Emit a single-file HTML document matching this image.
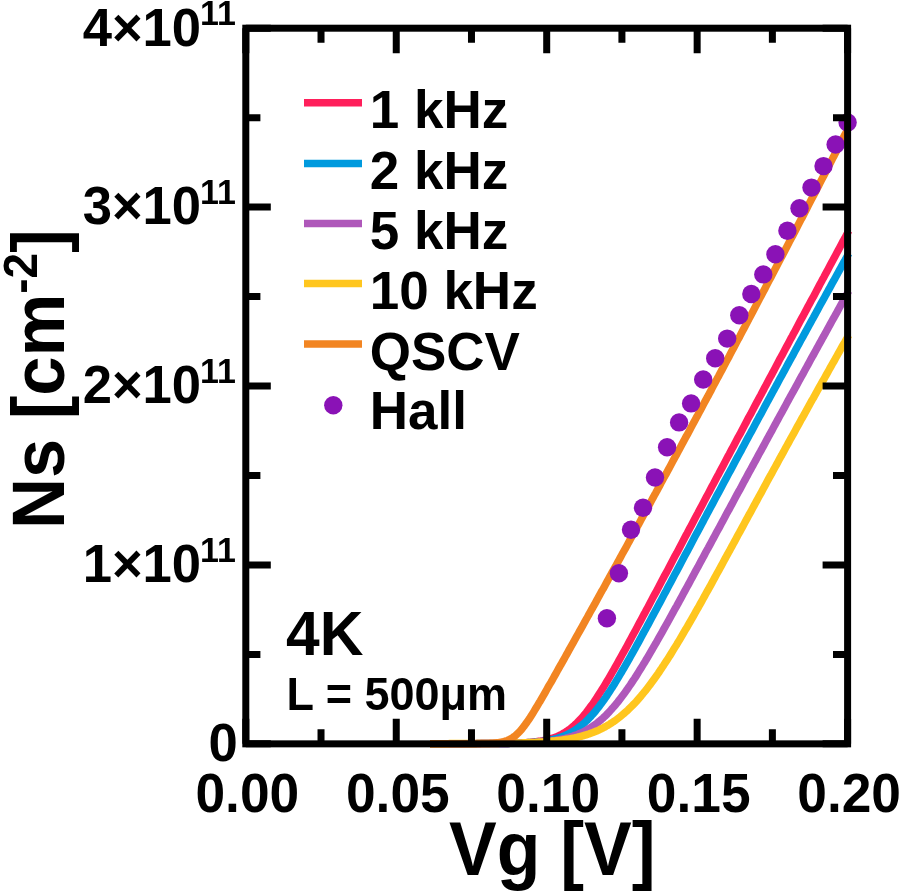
<!DOCTYPE html>
<html><head><meta charset="utf-8"><title>Ns vs Vg</title>
<style>
html,body{margin:0;padding:0;background:#fff;overflow:hidden;}
svg{display:block;}
text{font-family:"Liberation Sans",Arial,Helvetica,sans-serif;font-weight:bold;fill:#000;}
</style></head>
<body>
<svg width="899" height="891" viewBox="0 0 899 891">
<rect width="899" height="891" fill="#fff"/>
<path d="M430.0,743.7 L431.3,743.7 L432.6,743.7 L433.9,743.7 L435.3,743.7 L436.6,743.7 L437.9,743.7 L439.2,743.7 L440.5,743.7 L441.8,743.7 L443.1,743.7 L444.4,743.7 L445.8,743.7 L447.1,743.7 L448.4,743.7 L449.7,743.7 L451.0,743.7 L452.3,743.7 L453.6,743.7 L454.9,743.7 L456.3,743.7 L457.6,743.7 L458.9,743.7 L460.2,743.7 L461.5,743.7 L462.8,743.7 L464.1,743.7 L465.4,743.7 L466.8,743.7 L468.1,743.7 L469.4,743.7 L470.7,743.7 L472.0,743.7 L473.3,743.7 L474.6,743.7 L475.9,743.7 L477.3,743.7 L478.6,743.7 L479.9,743.7 L481.2,743.6 L482.5,743.6 L483.8,743.6 L485.1,743.6 L486.4,743.6 L487.8,743.6 L489.1,743.6 L490.4,743.6 L491.7,743.6 L493.0,743.6 L494.3,743.6 L495.6,743.6 L496.9,743.5 L498.3,743.5 L499.6,743.5 L500.9,743.5 L502.2,743.5 L503.5,743.5 L504.8,743.4 L506.1,743.4 L507.4,743.4 L508.8,743.4 L510.1,743.3 L511.4,743.3 L512.7,743.3 L514.0,743.2 L515.3,743.2 L516.6,743.1 L517.9,743.1 L519.3,743.0 L520.6,743.0 L521.9,742.9 L523.2,742.8 L524.5,742.8 L525.8,742.7 L527.1,742.6 L528.4,742.5 L529.8,742.4 L531.1,742.3 L532.4,742.1 L533.7,742.0 L535.0,741.8 L536.3,741.7 L537.6,741.5 L538.9,741.3 L540.3,741.1 L541.6,740.9 L542.9,740.7 L544.2,740.4 L545.5,740.1 L546.8,739.8 L548.1,739.5 L549.4,739.1 L550.8,738.7 L552.1,738.3 L553.4,737.9 L554.7,737.4 L556.0,736.9 L557.3,736.4 L558.6,735.8 L559.9,735.2 L561.3,734.5 L562.6,733.8 L563.9,733.0 L565.2,732.3 L566.5,731.4 L567.8,730.5 L569.1,729.6 L570.4,728.6 L571.8,727.5 L573.1,726.4 L574.4,725.3 L575.7,724.1 L577.0,722.8 L578.3,721.5 L579.6,720.1 L580.9,718.7 L582.3,717.2 L583.6,715.7 L584.9,714.1 L586.2,712.5 L587.5,710.8 L588.8,709.1 L590.1,707.3 L591.4,705.5 L592.8,703.7 L594.1,701.8 L595.4,699.8 L596.7,697.9 L598.0,695.9 L599.3,693.8 L600.6,691.8 L601.9,689.7 L603.3,687.6 L604.6,685.4 L605.9,683.2 L607.2,681.0 L608.5,678.8 L609.8,676.6 L611.1,674.3 L612.4,672.0 L613.8,669.8 L615.1,667.4 L616.4,665.1 L617.7,662.8 L619.0,660.4 L620.3,658.1 L621.6,655.7 L622.9,653.4 L624.3,651.0 L625.6,648.6 L626.9,646.2 L628.2,643.8 L629.5,641.4 L630.8,638.9 L632.1,636.5 L633.4,634.1 L634.8,631.7 L636.1,629.2 L637.4,626.8 L638.7,624.3 L640.0,621.9 L641.3,619.4 L642.6,617.0 L643.9,614.5 L645.3,612.1 L646.6,609.6 L647.9,607.2 L649.2,604.7 L650.5,602.2 L651.8,599.8 L653.1,597.3 L654.4,594.9 L655.8,592.4 L657.1,589.9 L658.4,587.5 L659.7,585.0 L661.0,582.5 L662.3,580.0 L663.6,577.6 L664.9,575.1 L666.3,572.6 L667.6,570.2 L668.9,567.7 L670.2,565.2 L671.5,562.7 L672.8,560.3 L674.1,557.8 L675.4,555.3 L676.8,552.9 L678.1,550.4 L679.4,547.9 L680.7,545.4 L682.0,543.0 L683.3,540.5 L684.6,538.0 L685.9,535.5 L687.3,533.1 L688.6,530.6 L689.9,528.1 L691.2,525.7 L692.5,523.2 L693.8,520.7 L695.1,518.2 L696.4,515.8 L697.8,513.3 L699.1,510.8 L700.4,508.4 L701.7,505.9 L703.0,503.4 L704.3,501.0 L705.6,498.5 L706.9,496.0 L708.3,493.5 L709.6,491.1 L710.9,488.6 L712.2,486.1 L713.5,483.7 L714.8,481.2 L716.1,478.7 L717.4,476.3 L718.8,473.8 L720.1,471.3 L721.4,468.9 L722.7,466.4 L724.0,463.9 L725.3,461.5 L726.6,459.0 L727.9,456.5 L729.3,454.1 L730.6,451.6 L731.9,449.1 L733.2,446.7 L734.5,444.2 L735.8,441.8 L737.1,439.3 L738.4,436.8 L739.8,434.4 L741.1,431.9 L742.4,429.4 L743.7,427.0 L745.0,424.5 L746.3,422.1 L747.6,419.6 L748.9,417.1 L750.3,414.7 L751.6,412.2 L752.9,409.8 L754.2,407.3 L755.5,404.8 L756.8,402.4 L758.1,399.9 L759.4,397.5 L760.8,395.0 L762.1,392.5 L763.4,390.1 L764.7,387.6 L766.0,385.2 L767.3,382.7 L768.6,380.2 L769.9,377.8 L771.3,375.3 L772.6,372.9 L773.9,370.4 L775.2,368.0 L776.5,365.5 L777.8,363.1 L779.1,360.6 L780.4,358.1 L781.8,355.7 L783.1,353.2 L784.4,350.8 L785.7,348.3 L787.0,345.9 L788.3,343.4 L789.6,341.0 L790.9,338.5 L792.3,336.1 L793.6,333.6 L794.9,331.2 L796.2,328.7 L797.5,326.3 L798.8,323.8 L800.1,321.3 L801.4,318.9 L802.8,316.4 L804.1,314.0 L805.4,311.5 L806.7,309.1 L808.0,306.6 L809.3,304.2 L810.6,301.7 L811.9,299.3 L813.3,296.9 L814.6,294.4 L815.9,292.0 L817.2,289.5 L818.5,287.1 L819.8,284.6 L821.1,282.2 L822.4,279.7 L823.8,277.3 L825.1,274.8 L826.4,272.4 L827.7,269.9 L829.0,267.5 L830.3,265.0 L831.6,262.6 L832.9,260.2 L834.3,257.7 L835.6,255.3 L836.9,252.8 L838.2,250.4 L839.5,247.9 L840.8,245.5 L842.1,243.1 L843.4,240.6 L844.8,238.2 L846.1,235.7 L847.4,233.3 L848.7,230.8" fill="none" stroke="#FF1F5B" stroke-width="7.5" stroke-linejoin="round"/>
<path d="M430.0,743.7 L431.3,743.7 L432.6,743.7 L433.9,743.7 L435.3,743.7 L436.6,743.7 L437.9,743.7 L439.2,743.7 L440.5,743.7 L441.8,743.7 L443.1,743.7 L444.4,743.7 L445.8,743.7 L447.1,743.7 L448.4,743.7 L449.7,743.7 L451.0,743.7 L452.3,743.7 L453.6,743.7 L454.9,743.7 L456.3,743.7 L457.6,743.7 L458.9,743.7 L460.2,743.7 L461.5,743.7 L462.8,743.7 L464.1,743.7 L465.4,743.7 L466.8,743.7 L468.1,743.7 L469.4,743.7 L470.7,743.7 L472.0,743.7 L473.3,743.7 L474.6,743.7 L475.9,743.7 L477.3,743.6 L478.6,743.6 L479.9,743.6 L481.2,743.6 L482.5,743.6 L483.8,743.6 L485.1,743.6 L486.4,743.6 L487.8,743.6 L489.1,743.6 L490.4,743.6 L491.7,743.6 L493.0,743.6 L494.3,743.6 L495.6,743.5 L496.9,743.5 L498.3,743.5 L499.6,743.5 L500.9,743.5 L502.2,743.5 L503.5,743.5 L504.8,743.4 L506.1,743.4 L507.4,743.4 L508.8,743.4 L510.1,743.3 L511.4,743.3 L512.7,743.3 L514.0,743.2 L515.3,743.2 L516.6,743.2 L517.9,743.1 L519.3,743.1 L520.6,743.0 L521.9,743.0 L523.2,742.9 L524.5,742.9 L525.8,742.8 L527.1,742.7 L528.4,742.6 L529.8,742.6 L531.1,742.5 L532.4,742.4 L533.7,742.3 L535.0,742.1 L536.3,742.0 L537.6,741.9 L538.9,741.8 L540.3,741.6 L541.6,741.4 L542.9,741.3 L544.2,741.1 L545.5,740.9 L546.8,740.7 L548.1,740.4 L549.4,740.2 L550.8,739.9 L552.1,739.6 L553.4,739.3 L554.7,739.0 L556.0,738.6 L557.3,738.3 L558.6,737.9 L559.9,737.4 L561.3,737.0 L562.6,736.5 L563.9,736.0 L565.2,735.4 L566.5,734.8 L567.8,734.2 L569.1,733.6 L570.4,732.9 L571.8,732.1 L573.1,731.4 L574.4,730.5 L575.7,729.7 L577.0,728.8 L578.3,727.8 L579.6,726.8 L580.9,725.8 L582.3,724.7 L583.6,723.6 L584.9,722.4 L586.2,721.1 L587.5,719.9 L588.8,718.5 L590.1,717.2 L591.4,715.7 L592.8,714.2 L594.1,712.7 L595.4,711.2 L596.7,709.5 L598.0,707.9 L599.3,706.2 L600.6,704.4 L601.9,702.7 L603.3,700.8 L604.6,699.0 L605.9,697.1 L607.2,695.1 L608.5,693.2 L609.8,691.2 L611.1,689.1 L612.4,687.1 L613.8,685.0 L615.1,682.9 L616.4,680.7 L617.7,678.6 L619.0,676.4 L620.3,674.2 L621.6,672.0 L622.9,669.7 L624.3,667.5 L625.6,665.2 L626.9,662.9 L628.2,660.6 L629.5,658.3 L630.8,656.0 L632.1,653.6 L633.4,651.3 L634.8,648.9 L636.1,646.5 L637.4,644.1 L638.7,641.8 L640.0,639.4 L641.3,637.0 L642.6,634.5 L643.9,632.1 L645.3,629.7 L646.6,627.3 L647.9,624.9 L649.2,622.4 L650.5,620.0 L651.8,617.5 L653.1,615.1 L654.4,612.7 L655.8,610.2 L657.1,607.8 L658.4,605.3 L659.7,602.9 L661.0,600.4 L662.3,597.9 L663.6,595.5 L664.9,593.0 L666.3,590.6 L667.6,588.1 L668.9,585.6 L670.2,583.2 L671.5,580.7 L672.8,578.2 L674.1,575.8 L675.4,573.3 L676.8,570.8 L678.1,568.4 L679.4,565.9 L680.7,563.4 L682.0,561.0 L683.3,558.5 L684.6,556.0 L685.9,553.6 L687.3,551.1 L688.6,548.7 L689.9,546.2 L691.2,543.7 L692.5,541.3 L693.8,538.8 L695.1,536.3 L696.4,533.9 L697.8,531.4 L699.1,529.0 L700.4,526.5 L701.7,524.0 L703.0,521.6 L704.3,519.1 L705.6,516.7 L706.9,514.2 L708.3,511.7 L709.6,509.3 L710.9,506.8 L712.2,504.4 L713.5,501.9 L714.8,499.5 L716.1,497.0 L717.4,494.6 L718.8,492.1 L720.1,489.7 L721.4,487.2 L722.7,484.8 L724.0,482.3 L725.3,479.9 L726.6,477.4 L727.9,475.0 L729.3,472.5 L730.6,470.1 L731.9,467.7 L733.2,465.2 L734.5,462.8 L735.8,460.3 L737.1,457.9 L738.4,455.5 L739.8,453.0 L741.1,450.6 L742.4,448.1 L743.7,445.7 L745.0,443.3 L746.3,440.8 L747.6,438.4 L748.9,436.0 L750.3,433.5 L751.6,431.1 L752.9,428.7 L754.2,426.2 L755.5,423.8 L756.8,421.4 L758.1,419.0 L759.4,416.5 L760.8,414.1 L762.1,411.7 L763.4,409.3 L764.7,406.8 L766.0,404.4 L767.3,402.0 L768.6,399.6 L769.9,397.2 L771.3,394.7 L772.6,392.3 L773.9,389.9 L775.2,387.5 L776.5,385.1 L777.8,382.7 L779.1,380.2 L780.4,377.8 L781.8,375.4 L783.1,373.0 L784.4,370.6 L785.7,368.2 L787.0,365.8 L788.3,363.4 L789.6,361.0 L790.9,358.6 L792.3,356.2 L793.6,353.7 L794.9,351.3 L796.2,348.9 L797.5,346.5 L798.8,344.1 L800.1,341.7 L801.4,339.3 L802.8,336.9 L804.1,334.5 L805.4,332.1 L806.7,329.7 L808.0,327.4 L809.3,325.0 L810.6,322.6 L811.9,320.2 L813.3,317.8 L814.6,315.4 L815.9,313.0 L817.2,310.6 L818.5,308.2 L819.8,305.8 L821.1,303.4 L822.4,301.1 L823.8,298.7 L825.1,296.3 L826.4,293.9 L827.7,291.5 L829.0,289.1 L830.3,286.8 L831.6,284.4 L832.9,282.0 L834.3,279.6 L835.6,277.2 L836.9,274.9 L838.2,272.5 L839.5,270.1 L840.8,267.7 L842.1,265.4 L843.4,263.0 L844.8,260.6 L846.1,258.2 L847.4,255.9 L848.7,253.5" fill="none" stroke="#009ADE" stroke-width="7.5" stroke-linejoin="round"/>
<path d="M430.0,743.7 L431.3,743.7 L432.6,743.7 L433.9,743.7 L435.3,743.7 L436.6,743.7 L437.9,743.7 L439.2,743.7 L440.5,743.7 L441.8,743.7 L443.1,743.7 L444.4,743.7 L445.8,743.7 L447.1,743.7 L448.4,743.7 L449.7,743.7 L451.0,743.7 L452.3,743.7 L453.6,743.7 L454.9,743.7 L456.3,743.7 L457.6,743.7 L458.9,743.7 L460.2,743.7 L461.5,743.7 L462.8,743.7 L464.1,743.7 L465.4,743.7 L466.8,743.7 L468.1,743.7 L469.4,743.6 L470.7,743.6 L472.0,743.6 L473.3,743.6 L474.6,743.6 L475.9,743.6 L477.3,743.6 L478.6,743.6 L479.9,743.6 L481.2,743.6 L482.5,743.6 L483.8,743.6 L485.1,743.6 L486.4,743.6 L487.8,743.6 L489.1,743.6 L490.4,743.6 L491.7,743.5 L493.0,743.5 L494.3,743.5 L495.6,743.5 L496.9,743.5 L498.3,743.5 L499.6,743.5 L500.9,743.5 L502.2,743.4 L503.5,743.4 L504.8,743.4 L506.1,743.4 L507.4,743.4 L508.8,743.3 L510.1,743.3 L511.4,743.3 L512.7,743.3 L514.0,743.2 L515.3,743.2 L516.6,743.2 L517.9,743.1 L519.3,743.1 L520.6,743.1 L521.9,743.0 L523.2,743.0 L524.5,742.9 L525.8,742.9 L527.1,742.8 L528.4,742.8 L529.8,742.7 L531.1,742.6 L532.4,742.6 L533.7,742.5 L535.0,742.4 L536.3,742.3 L537.6,742.2 L538.9,742.2 L540.3,742.1 L541.6,741.9 L542.9,741.8 L544.2,741.7 L545.5,741.6 L546.8,741.4 L548.1,741.3 L549.4,741.1 L550.8,741.0 L552.1,740.8 L553.4,740.6 L554.7,740.4 L556.0,740.2 L557.3,740.0 L558.6,739.8 L559.9,739.5 L561.3,739.3 L562.6,739.0 L563.9,738.7 L565.2,738.4 L566.5,738.0 L567.8,737.7 L569.1,737.3 L570.4,736.9 L571.8,736.5 L573.1,736.1 L574.4,735.6 L575.7,735.2 L577.0,734.7 L578.3,734.1 L579.6,733.6 L580.9,733.0 L582.3,732.4 L583.6,731.7 L584.9,731.0 L586.2,730.3 L587.5,729.6 L588.8,728.8 L590.1,728.0 L591.4,727.1 L592.8,726.3 L594.1,725.3 L595.4,724.4 L596.7,723.4 L598.0,722.3 L599.3,721.3 L600.6,720.2 L601.9,719.0 L603.3,717.8 L604.6,716.6 L605.9,715.3 L607.2,714.0 L608.5,712.6 L609.8,711.2 L611.1,709.8 L612.4,708.3 L613.8,706.8 L615.1,705.3 L616.4,703.7 L617.7,702.1 L619.0,700.4 L620.3,698.7 L621.6,697.0 L622.9,695.3 L624.3,693.5 L625.6,691.6 L626.9,689.8 L628.2,687.9 L629.5,686.0 L630.8,684.1 L632.1,682.1 L633.4,680.1 L634.8,678.1 L636.1,676.1 L637.4,674.0 L638.7,671.9 L640.0,669.8 L641.3,667.7 L642.6,665.6 L643.9,663.4 L645.3,661.2 L646.6,659.0 L647.9,656.8 L649.2,654.6 L650.5,652.4 L651.8,650.1 L653.1,647.9 L654.4,645.6 L655.8,643.3 L657.1,641.0 L658.4,638.7 L659.7,636.4 L661.0,634.1 L662.3,631.8 L663.6,629.4 L664.9,627.1 L666.3,624.7 L667.6,622.4 L668.9,620.0 L670.2,617.7 L671.5,615.3 L672.8,612.9 L674.1,610.5 L675.4,608.2 L676.8,605.8 L678.1,603.4 L679.4,601.0 L680.7,598.6 L682.0,596.2 L683.3,593.8 L684.6,591.4 L685.9,589.0 L687.3,586.5 L688.6,584.1 L689.9,581.7 L691.2,579.3 L692.5,576.9 L693.8,574.5 L695.1,572.0 L696.4,569.6 L697.8,567.2 L699.1,564.8 L700.4,562.3 L701.7,559.9 L703.0,557.5 L704.3,555.1 L705.6,552.6 L706.9,550.2 L708.3,547.8 L709.6,545.4 L710.9,542.9 L712.2,540.5 L713.5,538.1 L714.8,535.7 L716.1,533.2 L717.4,530.8 L718.8,528.4 L720.1,525.9 L721.4,523.5 L722.7,521.1 L724.0,518.7 L725.3,516.2 L726.6,513.8 L727.9,511.4 L729.3,509.0 L730.6,506.5 L731.9,504.1 L733.2,501.7 L734.5,499.3 L735.8,496.8 L737.1,494.4 L738.4,492.0 L739.8,489.6 L741.1,487.2 L742.4,484.7 L743.7,482.3 L745.0,479.9 L746.3,477.5 L747.6,475.1 L748.9,472.6 L750.3,470.2 L751.6,467.8 L752.9,465.4 L754.2,463.0 L755.5,460.6 L756.8,458.2 L758.1,455.7 L759.4,453.3 L760.8,450.9 L762.1,448.5 L763.4,446.1 L764.7,443.7 L766.0,441.3 L767.3,438.9 L768.6,436.5 L769.9,434.1 L771.3,431.7 L772.6,429.2 L773.9,426.8 L775.2,424.4 L776.5,422.0 L777.8,419.6 L779.1,417.2 L780.4,414.8 L781.8,412.4 L783.1,410.0 L784.4,407.6 L785.7,405.2 L787.0,402.8 L788.3,400.4 L789.6,398.0 L790.9,395.6 L792.3,393.2 L793.6,390.9 L794.9,388.5 L796.2,386.1 L797.5,383.7 L798.8,381.3 L800.1,378.9 L801.4,376.5 L802.8,374.1 L804.1,371.7 L805.4,369.3 L806.7,367.0 L808.0,364.6 L809.3,362.2 L810.6,359.8 L811.9,357.4 L813.3,355.0 L814.6,352.7 L815.9,350.3 L817.2,347.9 L818.5,345.5 L819.8,343.1 L821.1,340.8 L822.4,338.4 L823.8,336.0 L825.1,333.6 L826.4,331.2 L827.7,328.9 L829.0,326.5 L830.3,324.1 L831.6,321.7 L832.9,319.4 L834.3,317.0 L835.6,314.6 L836.9,312.3 L838.2,309.9 L839.5,307.5 L840.8,305.2 L842.1,302.8 L843.4,300.4 L844.8,298.1 L846.1,295.7 L847.4,293.3 L848.7,291.0" fill="none" stroke="#AF58BA" stroke-width="7.5" stroke-linejoin="round"/>
<path d="M430.0,743.7 L431.3,743.7 L432.6,743.7 L433.9,743.7 L435.3,743.7 L436.6,743.7 L437.9,743.7 L439.2,743.7 L440.5,743.7 L441.8,743.7 L443.1,743.7 L444.4,743.7 L445.8,743.7 L447.1,743.7 L448.4,743.7 L449.7,743.6 L451.0,743.6 L452.3,743.6 L453.6,743.6 L454.9,743.6 L456.3,743.6 L457.6,743.6 L458.9,743.6 L460.2,743.6 L461.5,743.6 L462.8,743.6 L464.1,743.6 L465.4,743.6 L466.8,743.6 L468.1,743.6 L469.4,743.6 L470.7,743.6 L472.0,743.6 L473.3,743.6 L474.6,743.6 L475.9,743.6 L477.3,743.6 L478.6,743.5 L479.9,743.5 L481.2,743.5 L482.5,743.5 L483.8,743.5 L485.1,743.5 L486.4,743.5 L487.8,743.5 L489.1,743.5 L490.4,743.5 L491.7,743.4 L493.0,743.4 L494.3,743.4 L495.6,743.4 L496.9,743.4 L498.3,743.4 L499.6,743.3 L500.9,743.3 L502.2,743.3 L503.5,743.3 L504.8,743.3 L506.1,743.2 L507.4,743.2 L508.8,743.2 L510.1,743.2 L511.4,743.1 L512.7,743.1 L514.0,743.1 L515.3,743.1 L516.6,743.0 L517.9,743.0 L519.3,743.0 L520.6,742.9 L521.9,742.9 L523.2,742.8 L524.5,742.8 L525.8,742.7 L527.1,742.7 L528.4,742.6 L529.8,742.6 L531.1,742.5 L532.4,742.5 L533.7,742.4 L535.0,742.4 L536.3,742.3 L537.6,742.2 L538.9,742.1 L540.3,742.1 L541.6,742.0 L542.9,741.9 L544.2,741.8 L545.5,741.7 L546.8,741.6 L548.1,741.5 L549.4,741.4 L550.8,741.3 L552.1,741.1 L553.4,741.0 L554.7,740.9 L556.0,740.7 L557.3,740.6 L558.6,740.4 L559.9,740.3 L561.3,740.1 L562.6,739.9 L563.9,739.7 L565.2,739.5 L566.5,739.3 L567.8,739.1 L569.1,738.9 L570.4,738.7 L571.8,738.4 L573.1,738.1 L574.4,737.9 L575.7,737.6 L577.0,737.3 L578.3,737.0 L579.6,736.7 L580.9,736.3 L582.3,736.0 L583.6,735.6 L584.9,735.2 L586.2,734.8 L587.5,734.4 L588.8,734.0 L590.1,733.5 L591.4,733.0 L592.8,732.5 L594.1,732.0 L595.4,731.5 L596.7,730.9 L598.0,730.4 L599.3,729.8 L600.6,729.1 L601.9,728.5 L603.3,727.8 L604.6,727.1 L605.9,726.4 L607.2,725.6 L608.5,724.9 L609.8,724.1 L611.1,723.2 L612.4,722.4 L613.8,721.5 L615.1,720.6 L616.4,719.6 L617.7,718.6 L619.0,717.6 L620.3,716.6 L621.6,715.5 L622.9,714.4 L624.3,713.3 L625.6,712.1 L626.9,710.9 L628.2,709.7 L629.5,708.4 L630.8,707.1 L632.1,705.8 L633.4,704.5 L634.8,703.1 L636.1,701.7 L637.4,700.2 L638.7,698.7 L640.0,697.2 L641.3,695.7 L642.6,694.1 L643.9,692.5 L645.3,690.9 L646.6,689.2 L647.9,687.5 L649.2,685.8 L650.5,684.1 L651.8,682.3 L653.1,680.5 L654.4,678.7 L655.8,676.8 L657.1,675.0 L658.4,673.1 L659.7,671.1 L661.0,669.2 L662.3,667.2 L663.6,665.3 L664.9,663.3 L666.3,661.2 L667.6,659.2 L668.9,657.1 L670.2,655.1 L671.5,653.0 L672.8,650.9 L674.1,648.7 L675.4,646.6 L676.8,644.4 L678.1,642.2 L679.4,640.1 L680.7,637.9 L682.0,635.7 L683.3,633.4 L684.6,631.2 L685.9,628.9 L687.3,626.7 L688.6,624.4 L689.9,622.1 L691.2,619.9 L692.5,617.6 L693.8,615.3 L695.1,613.0 L696.4,610.6 L697.8,608.3 L699.1,606.0 L700.4,603.6 L701.7,601.3 L703.0,599.0 L704.3,596.6 L705.6,594.2 L706.9,591.9 L708.3,589.5 L709.6,587.1 L710.9,584.8 L712.2,582.4 L713.5,580.0 L714.8,577.6 L716.1,575.2 L717.4,572.8 L718.8,570.4 L720.1,568.0 L721.4,565.6 L722.7,563.2 L724.0,560.8 L725.3,558.4 L726.6,556.0 L727.9,553.6 L729.3,551.2 L730.6,548.8 L731.9,546.4 L733.2,544.0 L734.5,541.6 L735.8,539.2 L737.1,536.7 L738.4,534.3 L739.8,531.9 L741.1,529.5 L742.4,527.1 L743.7,524.7 L745.0,522.3 L746.3,519.9 L747.6,517.4 L748.9,515.0 L750.3,512.6 L751.6,510.2 L752.9,507.8 L754.2,505.4 L755.5,503.0 L756.8,500.6 L758.1,498.2 L759.4,495.8 L760.8,493.4 L762.1,490.9 L763.4,488.5 L764.7,486.1 L766.0,483.7 L767.3,481.3 L768.6,478.9 L769.9,476.5 L771.3,474.1 L772.6,471.7 L773.9,469.3 L775.2,467.0 L776.5,464.6 L777.8,462.2 L779.1,459.8 L780.4,457.4 L781.8,455.0 L783.1,452.6 L784.4,450.2 L785.7,447.8 L787.0,445.5 L788.3,443.1 L789.6,440.7 L790.9,438.3 L792.3,435.9 L793.6,433.6 L794.9,431.2 L796.2,428.8 L797.5,426.4 L798.8,424.1 L800.1,421.7 L801.4,419.3 L802.8,417.0 L804.1,414.6 L805.4,412.2 L806.7,409.9 L808.0,407.5 L809.3,405.2 L810.6,402.8 L811.9,400.4 L813.3,398.1 L814.6,395.7 L815.9,393.4 L817.2,391.0 L818.5,388.7 L819.8,386.3 L821.1,384.0 L822.4,381.7 L823.8,379.3 L825.1,377.0 L826.4,374.6 L827.7,372.3 L829.0,370.0 L830.3,367.6 L831.6,365.3 L832.9,363.0 L834.3,360.7 L835.6,358.3 L836.9,356.0 L838.2,353.7 L839.5,351.4 L840.8,349.0 L842.1,346.7 L843.4,344.4 L844.8,342.1 L846.1,339.8 L847.4,337.5 L848.7,335.2" fill="none" stroke="#FFC61E" stroke-width="7.5" stroke-linejoin="round"/>
<path d="M430.0,743.7 L431.3,743.7 L432.6,743.7 L433.9,743.7 L435.3,743.7 L436.6,743.7 L437.9,743.7 L439.2,743.7 L440.5,743.7 L441.8,743.7 L443.1,743.7 L444.4,743.7 L445.8,743.7 L447.1,743.7 L448.4,743.7 L449.7,743.7 L451.0,743.7 L452.3,743.7 L453.6,743.7 L454.9,743.7 L456.3,743.7 L457.6,743.7 L458.9,743.7 L460.2,743.7 L461.5,743.7 L462.8,743.7 L464.1,743.7 L465.4,743.7 L466.8,743.7 L468.1,743.7 L469.4,743.7 L470.7,743.7 L472.0,743.7 L473.3,743.7 L474.6,743.7 L475.9,743.7 L477.3,743.6 L478.6,743.6 L479.9,743.6 L481.2,743.6 L482.5,743.6 L483.8,743.6 L485.1,743.5 L486.4,743.5 L487.8,743.5 L489.1,743.4 L490.4,743.3 L491.7,743.3 L493.0,743.2 L494.3,743.1 L495.6,743.0 L496.9,742.8 L498.3,742.7 L499.6,742.5 L500.9,742.3 L502.2,742.0 L503.5,741.7 L504.8,741.3 L506.1,740.9 L507.4,740.4 L508.8,739.8 L510.1,739.2 L511.4,738.4 L512.7,737.6 L514.0,736.7 L515.3,735.7 L516.6,734.5 L517.9,733.3 L519.3,731.9 L520.6,730.5 L521.9,729.0 L523.2,727.3 L524.5,725.6 L525.8,723.8 L527.1,722.0 L528.4,720.1 L529.8,718.1 L531.1,716.0 L532.4,714.0 L533.7,711.9 L535.0,709.7 L536.3,707.5 L537.6,705.3 L538.9,703.1 L540.3,700.9 L541.6,698.6 L542.9,696.4 L544.2,694.1 L545.5,691.8 L546.8,689.5 L548.1,687.2 L549.4,684.9 L550.8,682.6 L552.1,680.3 L553.4,678.0 L554.7,675.6 L556.0,673.3 L557.3,671.0 L558.6,668.6 L559.9,666.3 L561.3,664.0 L562.6,661.6 L563.9,659.3 L565.2,657.0 L566.5,654.6 L567.8,652.3 L569.1,649.9 L570.4,647.6 L571.8,645.2 L573.1,642.9 L574.4,640.5 L575.7,638.2 L577.0,635.8 L578.3,633.5 L579.6,631.1 L580.9,628.8 L582.3,626.4 L583.6,624.0 L584.9,621.7 L586.2,619.3 L587.5,617.0 L588.8,614.6 L590.1,612.2 L591.4,609.9 L592.8,607.5 L594.1,605.1 L595.4,602.8 L596.7,600.4 L598.0,598.0 L599.3,595.7 L600.6,593.3 L601.9,590.9 L603.3,588.6 L604.6,586.2 L605.9,583.8 L607.2,581.4 L608.5,579.0 L609.8,576.7 L611.1,574.3 L612.4,571.9 L613.8,569.5 L615.1,567.1 L616.4,564.8 L617.7,562.4 L619.0,560.0 L620.3,557.6 L621.6,555.2 L622.9,552.8 L624.3,550.4 L625.6,548.1 L626.9,545.7 L628.2,543.3 L629.5,540.9 L630.8,538.5 L632.1,536.1 L633.4,533.7 L634.8,531.3 L636.1,528.9 L637.4,526.5 L638.7,524.1 L640.0,521.7 L641.3,519.3 L642.6,516.9 L643.9,514.5 L645.3,512.1 L646.6,509.7 L647.9,507.3 L649.2,504.9 L650.5,502.4 L651.8,500.0 L653.1,497.6 L654.4,495.2 L655.8,492.8 L657.1,490.4 L658.4,488.0 L659.7,485.6 L661.0,483.1 L662.3,480.7 L663.6,478.3 L664.9,475.9 L666.3,473.5 L667.6,471.0 L668.9,468.6 L670.2,466.2 L671.5,463.8 L672.8,461.3 L674.1,458.9 L675.4,456.5 L676.8,454.1 L678.1,451.6 L679.4,449.2 L680.7,446.8 L682.0,444.3 L683.3,441.9 L684.6,439.5 L685.9,437.0 L687.3,434.6 L688.6,432.2 L689.9,429.7 L691.2,427.3 L692.5,424.8 L693.8,422.4 L695.1,419.9 L696.4,417.5 L697.8,415.1 L699.1,412.6 L700.4,410.2 L701.7,407.7 L703.0,405.3 L704.3,402.8 L705.6,400.4 L706.9,397.9 L708.3,395.5 L709.6,393.0 L710.9,390.6 L712.2,388.1 L713.5,385.6 L714.8,383.2 L716.1,380.7 L717.4,378.3 L718.8,375.8 L720.1,373.3 L721.4,370.9 L722.7,368.4 L724.0,366.0 L725.3,363.5 L726.6,361.0 L727.9,358.6 L729.3,356.1 L730.6,353.6 L731.9,351.1 L733.2,348.7 L734.5,346.2 L735.8,343.7 L737.1,341.3 L738.4,338.8 L739.8,336.3 L741.1,333.8 L742.4,331.3 L743.7,328.9 L745.0,326.4 L746.3,323.9 L747.6,321.4 L748.9,318.9 L750.3,316.4 L751.6,314.0 L752.9,311.5 L754.2,309.0 L755.5,306.5 L756.8,304.0 L758.1,301.5 L759.4,299.0 L760.8,296.5 L762.1,294.0 L763.4,291.5 L764.7,289.1 L766.0,286.6 L767.3,284.1 L768.6,281.6 L769.9,279.1 L771.3,276.6 L772.6,274.1 L773.9,271.6 L775.2,269.1 L776.5,266.5 L777.8,264.0 L779.1,261.5 L780.4,259.0 L781.8,256.5 L783.1,254.0 L784.4,251.5 L785.7,249.0 L787.0,246.5 L788.3,244.0 L789.6,241.4 L790.9,238.9 L792.3,236.4 L793.6,233.9 L794.9,231.4 L796.2,228.9 L797.5,226.3 L798.8,223.8 L800.1,221.3 L801.4,218.8 L802.8,216.3 L804.1,213.7 L805.4,211.2 L806.7,208.7 L808.0,206.1 L809.3,203.6 L810.6,201.1 L811.9,198.6 L813.3,196.0 L814.6,193.5 L815.9,191.0 L817.2,188.4 L818.5,185.9 L819.8,183.3 L821.1,180.8 L822.4,178.3 L823.8,175.7 L825.1,173.2 L826.4,170.6 L827.7,168.1 L829.0,165.6 L830.3,163.0 L831.6,160.5 L832.9,157.9 L834.3,155.4 L835.6,152.8 L836.9,150.3 L838.2,147.7 L839.5,145.2 L840.8,142.6 L842.1,140.1 L843.4,137.5 L844.8,134.9 L846.1,132.4 L847.4,129.8 L848.7,127.3" fill="none" stroke="#F28522" stroke-width="7.5" stroke-linejoin="round"/>
<circle cx="606.9" cy="618.2" r="9.2" fill="#8A12B6"/>
<circle cx="618.9" cy="573.3" r="9.2" fill="#8A12B6"/>
<circle cx="631.0" cy="529.7" r="9.2" fill="#8A12B6"/>
<circle cx="643.0" cy="507.8" r="9.2" fill="#8A12B6"/>
<circle cx="655.0" cy="477.5" r="9.2" fill="#8A12B6"/>
<circle cx="667.1" cy="447.2" r="9.2" fill="#8A12B6"/>
<circle cx="679.1" cy="422.4" r="9.2" fill="#8A12B6"/>
<circle cx="691.1" cy="403.4" r="9.2" fill="#8A12B6"/>
<circle cx="703.2" cy="379.5" r="9.2" fill="#8A12B6"/>
<circle cx="715.2" cy="358.2" r="9.2" fill="#8A12B6"/>
<circle cx="727.2" cy="338.6" r="9.2" fill="#8A12B6"/>
<circle cx="739.3" cy="315.3" r="9.2" fill="#8A12B6"/>
<circle cx="751.3" cy="294.0" r="9.2" fill="#8A12B6"/>
<circle cx="763.3" cy="274.4" r="9.2" fill="#8A12B6"/>
<circle cx="775.4" cy="254.3" r="9.2" fill="#8A12B6"/>
<circle cx="787.4" cy="230.7" r="9.2" fill="#8A12B6"/>
<circle cx="799.5" cy="208.3" r="9.2" fill="#8A12B6"/>
<circle cx="811.5" cy="187.6" r="9.2" fill="#8A12B6"/>
<circle cx="823.5" cy="166.1" r="9.2" fill="#8A12B6"/>
<circle cx="835.6" cy="144.5" r="9.2" fill="#8A12B6"/>
<circle cx="847.6" cy="122.4" r="9.2" fill="#8A12B6"/>
<path d="M245.80,743.85V718.85 M245.80,28.2V53.2 M321.02,743.85V729.25 M321.02,28.2V42.8 M396.25,743.85V718.85 M396.25,28.2V53.2 M471.48,743.85V729.25 M471.48,28.2V42.8 M546.70,743.85V718.85 M546.70,28.2V53.2 M621.92,743.85V729.25 M621.92,28.2V42.8 M697.15,743.85V718.85 M697.15,28.2V53.2 M772.38,743.85V729.25 M772.38,28.2V42.8 M847.60,743.85V718.85 M847.60,28.2V53.2 M245.8,743.85H270.8 M847.6,743.85H822.6 M245.8,654.39H260.40000000000003 M847.6,654.39H833.0 M245.8,564.94H270.8 M847.6,564.94H822.6 M245.8,475.48H260.40000000000003 M847.6,475.48H833.0 M245.8,386.03H270.8 M847.6,386.03H822.6 M245.8,296.57H260.40000000000003 M847.6,296.57H833.0 M245.8,207.11H270.8 M847.6,207.11H822.6 M245.8,117.66H260.40000000000003 M847.6,117.66H833.0 M245.8,28.20H270.8 M847.6,28.20H822.6" stroke="#000" stroke-width="7" fill="none"/>
<rect x="245.8" y="28.2" width="601.8" height="715.65" fill="none" stroke="#000" stroke-width="7"/>
<text transform="translate(201.1,582.2) scale(1,1.03)" font-size="52.6" text-anchor="end">1×10</text>
<text transform="translate(200.0,561.6) scale(1,1.03)" font-size="34">11</text>
<text transform="translate(201.1,403.3) scale(1,1.03)" font-size="52.6" text-anchor="end">2×10</text>
<text transform="translate(200.0,382.7) scale(1,1.03)" font-size="34">11</text>
<text transform="translate(201.1,224.4) scale(1,1.03)" font-size="52.6" text-anchor="end">3×10</text>
<text transform="translate(200.0,203.8) scale(1,1.03)" font-size="34">11</text>
<text transform="translate(201.1,45.5) scale(1,1.03)" font-size="52.6" text-anchor="end">4×10</text>
<text transform="translate(200.0,24.9) scale(1,1.03)" font-size="34">11</text>
<text transform="translate(237.8,760.9) scale(1,1.03)" font-size="52.6" text-anchor="end">0</text>
<text transform="translate(247.3,812.0) scale(1,1.05)" font-size="53.3" text-anchor="middle">0.00</text>
<text transform="translate(397.8,812.0) scale(1,1.05)" font-size="53.3" text-anchor="middle">0.05</text>
<text transform="translate(548.2,812.0) scale(1,1.05)" font-size="53.3" text-anchor="middle">0.10</text>
<text transform="translate(698.7,812.0) scale(1,1.05)" font-size="53.3" text-anchor="middle">0.15</text>
<text transform="translate(849.1,812.0) scale(1,1.05)" font-size="53.3" text-anchor="middle">0.20</text>
<text transform="translate(552.3,875.3) scale(1,1.068)" font-size="71.5" text-anchor="middle">Vg [V]</text>
<text transform="translate(64.3,379.2) rotate(-90) scale(1,1.045)" font-size="70.6" text-anchor="middle">Ns [cm<tspan font-size="46" dy="-26.5">-2</tspan><tspan dy="26.5">]</tspan></text>
<path d="M304,102.8H362" stroke="#FF1F5B" stroke-width="7.5"/>
<text transform="translate(369.7,128.3) scale(1,1.0)" font-size="53.0">1 kHz</text>
<path d="M304,163.5H362" stroke="#009ADE" stroke-width="7.5"/>
<text transform="translate(369.7,189) scale(1,1.0)" font-size="53.0">2 kHz</text>
<path d="M304,223.6H362" stroke="#AF58BA" stroke-width="7.5"/>
<text transform="translate(369.7,248.7) scale(1,1.0)" font-size="53.0">5 kHz</text>
<path d="M304,283.4H362" stroke="#FFC61E" stroke-width="7.5"/>
<text transform="translate(369.7,309.3) scale(1,1.0)" font-size="53.0">10 kHz</text>
<path d="M304,344.0H362" stroke="#F28522" stroke-width="7.5"/>
<text transform="translate(369.7,369.6) scale(1,1.0)" font-size="53.0">QSCV</text>
<circle cx="333.3" cy="405.2" r="9.2" fill="#8A12B6"/>
<text transform="translate(369.7,429.4) scale(1,1.0)" font-size="53.0">Hall</text>
<text transform="translate(286.0,655.3) scale(1,1.04)" font-size="60.5">4K</text>
<text transform="translate(286.5,710) scale(1,1.03)" font-size="45">L = 500μm</text>
</svg>
</body></html>
